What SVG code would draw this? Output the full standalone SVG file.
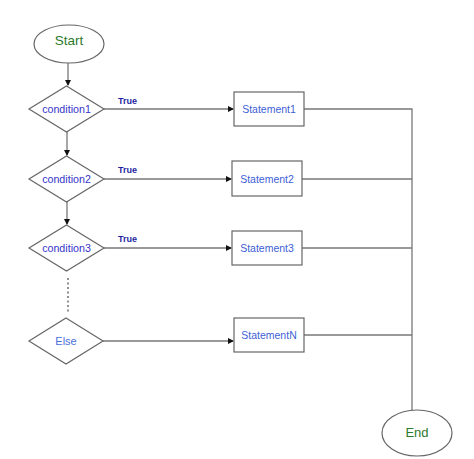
<svg xmlns="http://www.w3.org/2000/svg" width="474" height="459" viewBox="0 0 474 459">
<defs>
<marker id="arr" markerWidth="6" markerHeight="6" refX="5" refY="3" orient="auto" markerUnits="userSpaceOnUse">
<path d="M0,0 L6,3 L0,6 z" fill="#111"/>
</marker>
<style>
.shape{fill:#fff;stroke:#666;stroke-width:1.2}
.ln{fill:none;stroke:#777;stroke-width:1.3}
.term{font-family:"Liberation Sans",Arial,sans-serif;font-size:13.5px;fill:#2d7a2d;text-anchor:middle}
.cond{font-family:"Liberation Sans",Arial,sans-serif;font-size:10.7px;fill:#3535c8;text-anchor:middle}
.stmt{font-family:"Liberation Sans",Arial,sans-serif;font-size:10.5px;fill:#3d5fd6;text-anchor:middle}
.lbl{font-family:"Liberation Sans",Arial,sans-serif;font-size:9px;font-weight:bold;fill:#1f1fa0}
</style>
</defs>
<rect width="474" height="459" fill="#fff"/>
<g id="connectors">
<line class="ln" x1="68" y1="63" x2="68" y2="85" marker-end="url(#arr)"/>
<line class="ln" x1="67" y1="132" x2="67" y2="155" marker-end="url(#arr)"/>
<line class="ln" x1="67" y1="202" x2="67" y2="224" marker-end="url(#arr)"/>
<line class="ln" x1="68" y1="278" x2="68" y2="314" stroke-dasharray="2,2.5" style="stroke:#555"/>
<line class="ln" x1="104" y1="109" x2="233" y2="109" marker-end="url(#arr)"/>
<line class="ln" x1="104" y1="179" x2="231" y2="179" marker-end="url(#arr)"/>
<line class="ln" x1="104" y1="248" x2="231" y2="248" marker-end="url(#arr)"/>
<line class="ln" x1="103" y1="341" x2="233" y2="341" marker-end="url(#arr)"/>
<polyline class="ln" points="304,109 412,109 412,410"/>
<line class="ln" x1="302" y1="179" x2="412" y2="179"/>
<line class="ln" x1="302" y1="248" x2="412" y2="248"/>
<line class="ln" x1="304" y1="335" x2="412" y2="335"/>
<text class="lbl" x="118" y="104">True</text>
<text class="lbl" x="118" y="173">True</text>
<text class="lbl" x="118" y="242">True</text>
</g>
<g id="start">
<ellipse class="shape" cx="69" cy="44" rx="35" ry="19"/>
<text class="term" x="69" y="45">Start</text>
</g>
<g id="condition1">
<polygon class="shape" points="66.5,86 104,109 66.5,132 29,109"/>
<text class="cond" x="66.5" y="113">condition1</text>
</g>
<g id="condition2">
<polygon class="shape" points="66.5,156 104,179 66.5,202 29,179"/>
<text class="cond" x="66.5" y="183">condition2</text>
</g>
<g id="condition3">
<polygon class="shape" points="66.5,225 104,248 66.5,271 29,248"/>
<text class="cond" x="66.5" y="252">condition3</text>
</g>
<g id="else">
<polygon class="shape" points="66,318 103,341 66,364 29,341"/>
<text class="cond" x="66" y="345" style="fill:#4a6fd8;font-size:11px">Else</text>
</g>
<g id="statement1">
<rect class="shape" x="234" y="92" width="70" height="34"/>
<text class="stmt" x="269" y="113">Statement1</text>
</g>
<g id="statement2">
<rect class="shape" x="232" y="161" width="70" height="35"/>
<text class="stmt" x="267" y="183">Statement2</text>
</g>
<g id="statement3">
<rect class="shape" x="232" y="231" width="70" height="34"/>
<text class="stmt" x="267" y="252">Statement3</text>
</g>
<g id="statementN">
<rect class="shape" x="234" y="318" width="70" height="34"/>
<text class="stmt" x="269" y="339">StatementN</text>
</g>
<g id="end">
<ellipse class="shape" cx="417" cy="433" rx="35" ry="23"/>
<text class="term" x="417" y="437" style="font-size:13px">End</text>
</g>
</svg>
